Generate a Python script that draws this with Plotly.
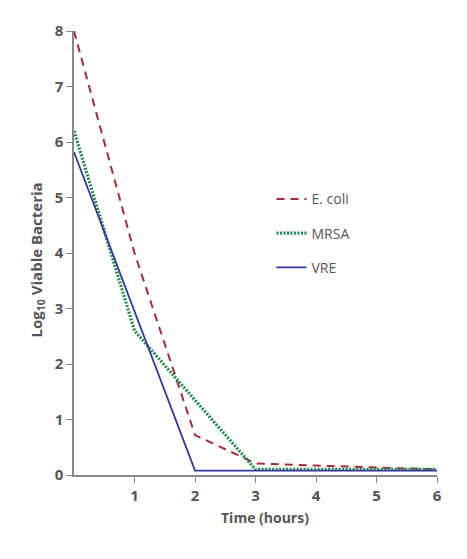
import plotly.graph_objects as go

hours = [0, 1, 2, 3, 4, 5, 6]
ecoli = [8.0, 4.0, 0.72, 0.21, 0.17, 0.13, 0.10]
mrsa = [6.2, 2.6, 1.35, 0.1, 0.1, 0.1, 0.1]
vre = [5.82, 2.95, 0.08, 0.08, 0.08, 0.08, 0.08]
x_ticks = [1, 2, 3, 4, 5, 6]
y_ticks = [0, 1, 2, 3, 4, 5, 6, 7, 8]

fig = go.Figure()
fig.add_trace(go.Scatter(x=hours, y=ecoli, mode="lines", name="E. coli", legendgroup="a",
                         line=dict(color="#a52a3c", width=2, dash="8px,6px")))
fig.add_trace(go.Scatter(x=hours, y=mrsa, mode="lines", name="MRSA", legendgroup="b",
                         line=dict(color="#1e8a4c", width=3.2, dash="2px,1.5px")))
fig.add_trace(go.Scatter(x=hours, y=vre, mode="lines", name="VRE", legendgroup="c",
                         line=dict(color="#35379a", width=1.8)))

axis_font = dict(family="Open Sans", size=15, color="#555555", weight="bold")
fig.update_layout(
    width=467, height=559,
    margin=dict(l=66, r=38, t=19, b=92),
    plot_bgcolor="white", paper_bgcolor="white",
    showlegend=True,
    legend=dict(x=0.544, y=0.657, xanchor="left", yanchor="top",
                font=dict(family="Open Sans", size=14, color="#555555"),
                tracegroupgap=13, bgcolor="rgba(0,0,0,0)"),
    xaxis=dict(range=[0, 6], tickvals=x_ticks, ticks="outside", ticklen=6,
               tickcolor="#888888", showline=True, linecolor="#888888", linewidth=1.5,
               showgrid=False, zeroline=False, tickfont=axis_font),
    yaxis=dict(range=[0, 8], tickvals=y_ticks, ticks="outside", ticklen=6,
               tickcolor="#888888", showline=True, linecolor="#888888", linewidth=1.5,
               showgrid=False, zeroline=False, tickfont=axis_font),
    annotations=[
        dict(text="Time (hours)", xref="paper", yref="paper", x=0.525, y=-0.096,
             xanchor="center", yanchor="middle", showarrow=False,
             font=dict(family="Open Sans", size=14, color="#555555", weight="bold")),
        dict(text="Log<sub>10</sub> Viable Bacteria", xref="paper", yref="paper", x=-0.102, y=0.4855,
             xanchor="center", yanchor="middle", showarrow=False, textangle=-90,
             font=dict(family="Open Sans", size=15, color="#555555", weight="bold")),
    ],
)

fig.write_html("out.html")
